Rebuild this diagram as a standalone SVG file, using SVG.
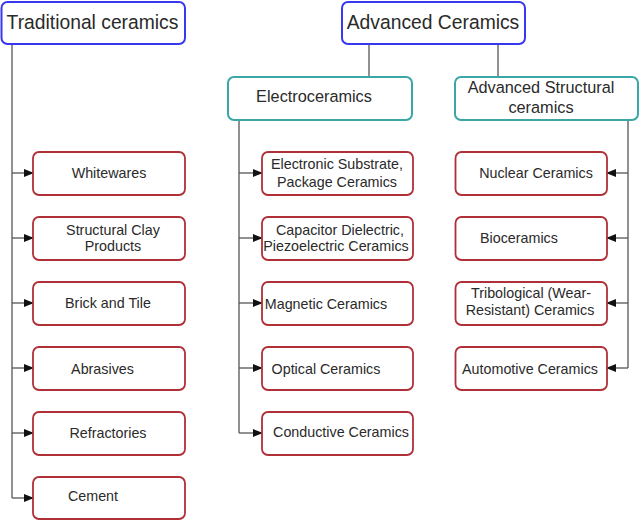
<svg xmlns="http://www.w3.org/2000/svg" width="640" height="521" viewBox="0 0 640 521">
<style>
text{font-family:"Liberation Sans",Arial,sans-serif;fill:#2a2a2a;text-anchor:middle}
.top{fill:#fff;stroke:#3838f0;stroke-width:2}
.mid{fill:#fff;stroke:#3aa6a6;stroke-width:2}
.leaf{fill:#fff;stroke:#b03038;stroke-width:1.8}
.t1{font-size:19.3px}
.t2{font-size:16.3px}
.t3{font-size:14.3px}
.c{fill:none;stroke:#555;stroke-width:1.3}
</style>
<defs>
<marker id="ah" markerWidth="10" markerHeight="8" refX="9" refY="4" orient="auto" markerUnits="userSpaceOnUse">
<path d="M0,0 L10,4 L0,8 Z" fill="#111"/>
</marker>
</defs>
<rect width="640" height="521" fill="#fff"/>
<g id="connectors">
<path class="c" d="M12,44 V498"/>
<path class="c" d="M12,173 H33" marker-end="url(#ah)"/>
<path class="c" d="M12,238 H33" marker-end="url(#ah)"/>
<path class="c" d="M12,303 H33" marker-end="url(#ah)"/>
<path class="c" d="M12,368 H33" marker-end="url(#ah)"/>
<path class="c" d="M12,433 H33" marker-end="url(#ah)"/>
<path class="c" d="M12,498 H33" marker-end="url(#ah)"/>
<path class="c" d="M369,44 V77"/>
<path class="c" d="M498,44 V77"/>
<path class="c" d="M239,120 V433"/>
<path class="c" d="M239,173 H262" marker-end="url(#ah)"/>
<path class="c" d="M239,238 H262" marker-end="url(#ah)"/>
<path class="c" d="M239,303 H262" marker-end="url(#ah)"/>
<path class="c" d="M239,368 H262" marker-end="url(#ah)"/>
<path class="c" d="M239,433 H262" marker-end="url(#ah)"/>
<path class="c" d="M628,120 V368"/>
<path class="c" d="M628,173 H607" marker-end="url(#ah)"/>
<path class="c" d="M628,238 H607" marker-end="url(#ah)"/>
<path class="c" d="M628,303 H607" marker-end="url(#ah)"/>
<path class="c" d="M628,368 H607" marker-end="url(#ah)"/>
</g>
<g id="traditional"><rect class="top" x="1.5" y="2" width="183.5" height="42" rx="6"/><text class="t1" x="92.5" y="29">Traditional ceramics</text></g>
<g id="advanced"><rect class="top" x="342" y="2" width="183" height="42" rx="6"/><text class="t1" x="433" y="29">Advanced Ceramics</text></g>
<g id="electro"><rect class="mid" x="228" y="77" width="184" height="43" rx="6"/><text class="t2" x="314" y="102">Electroceramics</text></g>
<g id="structural"><rect class="mid" x="455" y="77" width="183" height="43" rx="6"/><text class="t2" x="541" y="93">Advanced Structural</text><text class="t2" x="541" y="113">ceramics</text></g>

<g id="whitewares"><rect class="leaf" x="33" y="152" width="152" height="43" rx="6"/><text class="t3" x="109" y="178">Whitewares</text></g>
<g id="clay"><rect class="leaf" x="33" y="217" width="152" height="43" rx="6"/><text class="t3" x="113" y="235">Structural Clay</text><text class="t3" x="113" y="251">Products</text></g>
<g id="brick"><rect class="leaf" x="33" y="282" width="152" height="43" rx="6"/><text class="t3" x="108" y="308">Brick and Tile</text></g>
<g id="abrasives"><rect class="leaf" x="33" y="347" width="152" height="43" rx="6"/><text class="t3" x="102.5" y="374">Abrasives</text></g>
<g id="refractories"><rect class="leaf" x="33" y="412" width="152" height="43" rx="6"/><text class="t3" x="108" y="438">Refractories</text></g>
<g id="cement"><rect class="leaf" x="33" y="477" width="152" height="42" rx="6"/><text class="t3" x="93" y="501">Cement</text></g>

<g id="substrate"><rect class="leaf" x="262" y="152" width="151" height="43" rx="6"/><text class="t3" x="337" y="169">Electronic Substrate,</text><text class="t3" x="337" y="187">Package Ceramics</text></g>
<g id="capacitor"><rect class="leaf" x="262" y="217" width="151" height="43" rx="6"/><text class="t3" x="340" y="235">Capacitor Dielectric,</text><text class="t3" x="336" y="251">Piezoelectric Ceramics</text></g>
<g id="magnetic"><rect class="leaf" x="262" y="282" width="151" height="43" rx="6"/><text class="t3" x="326" y="309">Magnetic Ceramics</text></g>
<g id="optical"><rect class="leaf" x="262" y="347" width="151" height="43" rx="6"/><text class="t3" x="326" y="374">Optical Ceramics</text></g>
<g id="conductive"><rect class="leaf" x="262" y="412" width="151" height="43" rx="6"/><text class="t3" x="341" y="437">Conductive Ceramics</text></g>

<g id="nuclear"><rect class="leaf" x="455.5" y="152" width="151.5" height="43" rx="6"/><text class="t3" x="536" y="178">Nuclear Ceramics</text></g>
<g id="bio"><rect class="leaf" x="455.5" y="217" width="151.5" height="43" rx="6"/><text class="t3" x="519" y="243">Bioceramics</text></g>
<g id="tribological"><rect class="leaf" x="455.5" y="282" width="151.5" height="43" rx="6"/><text class="t3" x="531" y="298">Tribological (Wear-</text><text class="t3" x="530" y="315">Resistant) Ceramics</text></g>
<g id="automotive"><rect class="leaf" x="455.5" y="347" width="151.5" height="43" rx="6"/><text class="t3" x="530" y="374">Automotive Ceramics</text></g>
</svg>
